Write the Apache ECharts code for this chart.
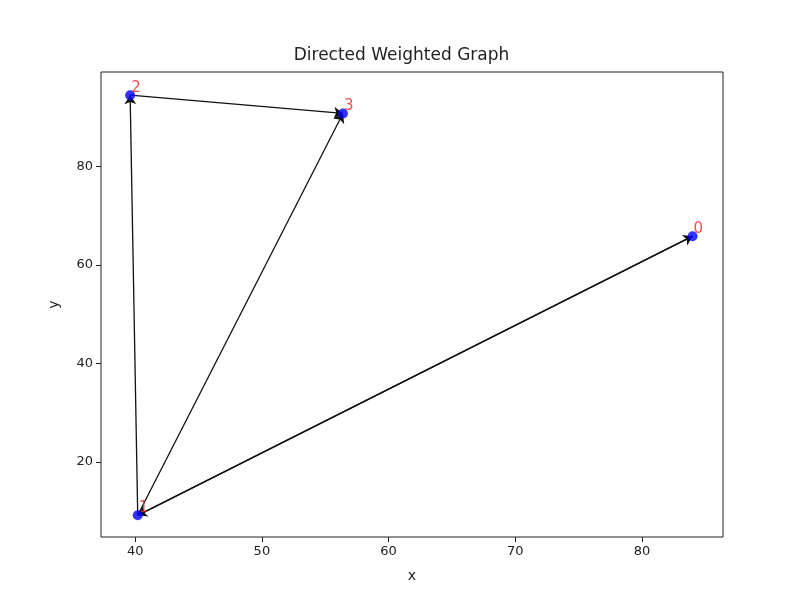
<!DOCTYPE html>
<html>
<head>
<meta charset="utf-8">
<script src="https://cdn.jsdelivr.net/npm/echarts@6/dist/echarts.min.js"></script>
<style>html,body{margin:0;padding:0;background:#fff}#main{width:803px;height:599px}</style>
</head>
<body>
<div id="main"></div>
<script>
// 节点坐标
var nodeNames = ['0', '1', '2', '3'];
var nodeX = [84.0, 40.2, 39.6, 56.4];
var nodeY = [65.8, 9.2, 94.4, 90.7];
// 边: 起点, 终点, 权重
var edgeFrom = [0, 1, 1, 1, 2];
var edgeTo = [1, 0, 2, 3, 3];
var edgeWeight = ['1.4', '1.6', '1.3', '1.8', '1.1'];
// 刻度
var xTicks = [40, 50, 60, 70, 80];
var yTicks = [20, 40, 60, 80];

var myChart = echarts.init(document.getElementById('main'));

var nodeData = [];
nodeNames.forEach(function(n, i) {
	nodeData.push({ name: n, value: [nodeX[i], nodeY[i]] });
});
var edgeData = [];
var labelData = [];
edgeFrom.forEach(function(f, i) {
	var t = edgeTo[i];
	edgeData.push({ coords: [[nodeX[f], nodeY[f]], [nodeX[t], nodeY[t]]] });
	// 权重标签放在边的中点
	labelData.push({ name: edgeWeight[i], value: [(nodeX[f] + nodeX[t]) / 2, (nodeY[f] + nodeY[t]) / 2] });
});

var option = {
	backgroundColor: '#fff',
	textStyle: { fontFamily: 'DejaVu Sans' },
	title: {
		text: 'Directed Weighted Graph',
		left: 'center',
		top: 42,
		textStyle: { fontSize: 17, fontWeight: 'normal', color: '#222' }
	},
	grid: { left: 101, right: 80, top: 72, bottom: 62, show: true, borderColor: '#222', borderWidth: 1 },
	xAxis: {
		type: 'value', min: 37.3, max: 86.4, name: 'x',
		nameLocation: 'middle', nameGap: 32, nameTextStyle: { fontSize: 14, color: '#222' },
		splitLine: { show: false },
		axisLine: { show: false },
		axisTick: { show: true, customValues: xTicks, lineStyle: { color: '#222' } },
		axisLabel: { fontSize: 13, color: '#222', customValues: xTicks }
	},
	yAxis: {
		type: 'value', min: 4.8, max: 99.1, name: 'y',
		nameLocation: 'middle', nameGap: 40, nameTextStyle: { fontSize: 14, color: '#222' },
		splitLine: { show: false },
		axisLine: { show: false },
		axisTick: { show: true, customValues: yTicks, lineStyle: { color: '#222' } },
		axisLabel: { fontSize: 13, color: '#222', customValues: yTicks }
	},
	series: [{
		type: 'lines',
		coordinateSystem: 'cartesian2d',
		data: edgeData,
		symbol: ['none', 'arrow'],
		symbolSize: 9,
		lineStyle: { color: '#111', width: 1.3, opacity: 1 },
		z: 2
	}, {
		type: 'scatter',
		data: labelData,
		symbolSize: 1,
		itemStyle: { opacity: 0 },
		label: { show: true, position: 'inside', formatter: '{b}', color: '#e33', fontSize: 7 },
		z: 4
	}, {
		type: 'scatter',
		data: nodeData,
		symbolSize: 10,
		itemStyle: { color: '#0000ff' },
		label: { show: true, position: [6, -10], formatter: '{b}', color: '#e22', fontSize: 15 },
		z: 3
	}]
};
myChart.setOption(option);
</script>
</body>
</html>
